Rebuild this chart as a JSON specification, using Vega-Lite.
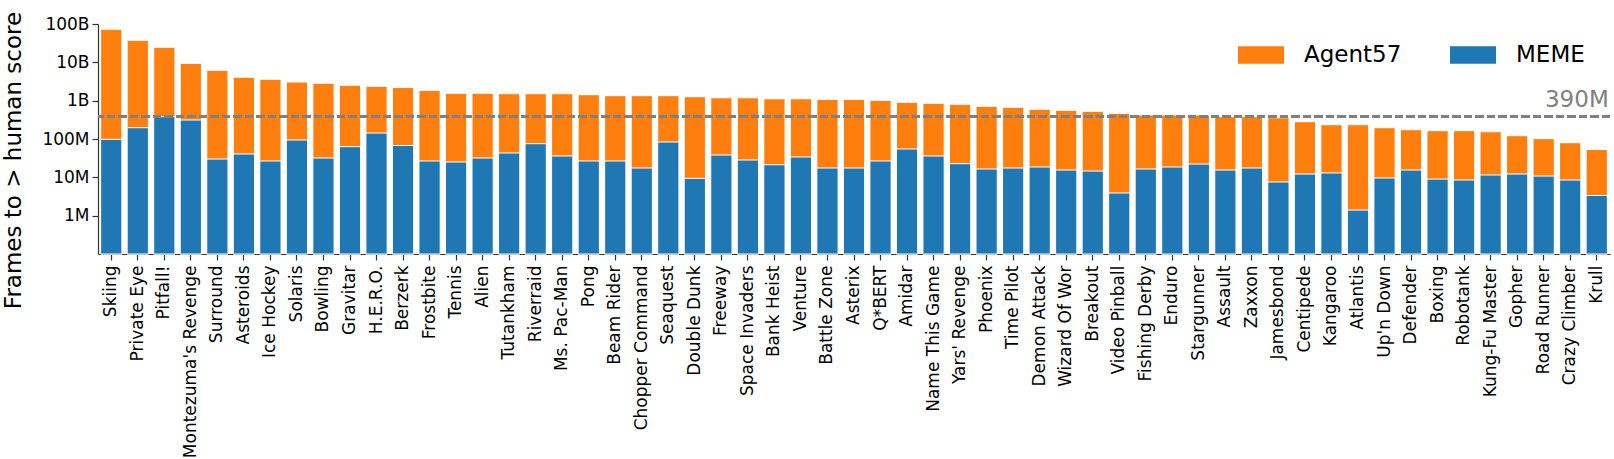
{
  "$schema": "https://vega.github.io/schema/vega-lite/v6.json",
  "width": 1512,
  "height": 230,
  "autosize": {"type": "none"},
  "padding": {"left": 98, "top": 24, "right": 4, "bottom": 205},
  "config": {
    "font": "DejaVu Sans",
    "view": {"stroke": null},
    "axis": {"grid": false}
  },
  "data": {
    "values": [
      {"game": "Skiing", "agent57": 73000000000, "meme": 98000000},
      {"game": "Private Eye", "agent57": 37600000000, "meme": 197000000},
      {"game": "Pitfall!", "agent57": 24700000000, "meme": 382000000},
      {"game": "Montezuma's Revenge", "agent57": 9400000000, "meme": 313000000},
      {"game": "Surround", "agent57": 6200000000, "meme": 30000000},
      {"game": "Asteroids", "agent57": 4070000000, "meme": 40600000},
      {"game": "Ice Hockey", "agent57": 3610000000, "meme": 26700000},
      {"game": "Solaris", "agent57": 3070000000, "meme": 94000000},
      {"game": "Bowling", "agent57": 2840000000, "meme": 31900000},
      {"game": "Gravitar", "agent57": 2520000000, "meme": 63000000},
      {"game": "H.E.R.O.", "agent57": 2370000000, "meme": 143000000},
      {"game": "Berzerk", "agent57": 2200000000, "meme": 67600000},
      {"game": "Frostbite", "agent57": 1860000000, "meme": 26700000},
      {"game": "Tennis", "agent57": 1560000000, "meme": 25100000},
      {"game": "Alien", "agent57": 1560000000, "meme": 31900000},
      {"game": "Tutankham", "agent57": 1520000000, "meme": 43100000},
      {"game": "Riverraid", "agent57": 1520000000, "meme": 75400000},
      {"game": "Ms. Pac-Man", "agent57": 1520000000, "meme": 36000000},
      {"game": "Pong", "agent57": 1430000000, "meme": 26700000},
      {"game": "Beam Rider", "agent57": 1350000000, "meme": 26700000},
      {"game": "Chopper Command", "agent57": 1350000000, "meme": 17500000},
      {"game": "Seaquest", "agent57": 1350000000, "meme": 83500000},
      {"game": "Double Dunk", "agent57": 1270000000, "meme": 9400000},
      {"game": "Freeway", "agent57": 1190000000, "meme": 38200000},
      {"game": "Space Invaders", "agent57": 1190000000, "meme": 28300000},
      {"game": "Bank Heist", "agent57": 1120000000, "meme": 21300000},
      {"game": "Venture", "agent57": 1120000000, "meme": 33900000},
      {"game": "Battle Zone", "agent57": 1080000000, "meme": 17500000},
      {"game": "Asterix", "agent57": 1080000000, "meme": 17500000},
      {"game": "Q*BERT", "agent57": 1020000000, "meme": 26700000},
      {"game": "Amidar", "agent57": 906000000, "meme": 54800000},
      {"game": "Name This Game", "agent57": 853000000, "meme": 36000000},
      {"game": "Yars' Revenge", "agent57": 804000000, "meme": 22700000},
      {"game": "Phoenix", "agent57": 713000000, "meme": 16500000},
      {"game": "Time Pilot", "agent57": 671000000, "meme": 17500000},
      {"game": "Demon Attack", "agent57": 595000000, "meme": 18600000},
      {"game": "Wizard Of Wor", "agent57": 561000000, "meme": 15500000},
      {"game": "Breakout", "agent57": 528000000, "meme": 14600000},
      {"game": "Video Pinball", "agent57": 468000000, "meme": 3900000},
      {"game": "Fishing Derby", "agent57": 423000000, "meme": 16500000},
      {"game": "Enduro", "agent57": 423000000, "meme": 18600000},
      {"game": "Stargunner", "agent57": 423000000, "meme": 22200000},
      {"game": "Assault", "agent57": 382000000, "meme": 15500000},
      {"game": "Zaxxon", "agent57": 382000000, "meme": 17500000},
      {"game": "Jamesbond", "agent57": 359000000, "meme": 7550000},
      {"game": "Centipede", "agent57": 283000000, "meme": 12200000},
      {"game": "Kangaroo", "agent57": 236000000, "meme": 13000000},
      {"game": "Atlantis", "agent57": 236000000, "meme": 1400000},
      {"game": "Up'n Down", "agent57": 197000000, "meme": 9600000},
      {"game": "Defender", "agent57": 175000000, "meme": 15500000},
      {"game": "Boxing", "agent57": 165000000, "meme": 9000000},
      {"game": "Robotank", "agent57": 165000000, "meme": 8500000},
      {"game": "Kung-Fu Master", "agent57": 155000000, "meme": 11500000},
      {"game": "Gopher", "agent57": 122000000, "meme": 12200000},
      {"game": "Road Runner", "agent57": 102000000, "meme": 10800000},
      {"game": "Crazy Climber", "agent57": 80000000, "meme": 8500000},
      {"game": "Krull", "agent57": 53200000, "meme": 3360000}
    ]
  },
  "layer": [
    {
      "mark": {"type": "bar", "stroke": "white", "strokeWidth": 1},
      "encoding": {
        "x": {
          "field": "game",
          "type": "nominal",
          "sort": null,
          "scale": {"paddingInner": 0.2, "paddingOuter": 0.1},
          "axis": {
            "title": null,
            "labelAngle": -90,
            "labelFontSize": 17,
            "labelColor": "#000000",
            "labelPadding": 5,
            "labelLimit": 300,
            "tickSize": 6,
            "tickColor": "#333333",
            "tickWidth": 1.2,
            "domainColor": "#333333",
            "domainWidth": 1.2
          }
        },
        "y": {
          "field": "agent57",
          "type": "quantitative",
          "stack": null,
          "scale": {"type": "log", "domain": [100000, 100000000000]},
          "axis": {
            "title": "Frames to > human score",
            "titleFontSize": 23,
            "titleFontWeight": "normal",
            "titleColor": "#000000",
            "titleX": -78,
            "titleY": 136,
            "titleAngle": 270,
            "titleAlign": "center",
            "titleBaseline": "alphabetic",
            "values": [1000000, 10000000, 100000000, 1000000000, 10000000000, 100000000000],
            "labelExpr": "datum.value >= 1e9 ? format(round(datum.value/1e9),'d') + 'B' : format(round(datum.value/1e6),'d') + 'M'",
            "labelFontSize": 17,
            "labelColor": "#000000",
            "labelPadding": 3,
            "tickSize": 6,
            "tickColor": "#333333",
            "tickWidth": 1.2,
            "domainColor": "#333333",
            "domainWidth": 1.2
          }
        },
        "y2": {"datum": 100000},
        "color": {
          "datum": "Agent57",
          "type": "nominal",
          "scale": {"domain": ["Agent57", "MEME"], "range": ["#ff7f0e", "#1f77b4"]},
          "legend": {
            "title": null,
            "orient": "none",
            "legendX": 1140,
            "legendY": 8,
            "direction": "horizontal",
            "padding": 0,
            "symbolType": "M-1,-0.38L1,-0.38L1,0.38L-1,0.38Z",
            "symbolSize": 2116,
            "symbolStrokeWidth": 0,
            "symbolOpacity": 1,
            "labelFontSize": 23,
            "labelColor": "#000000",
            "labelOffset": 20,
            "columnPadding": 48
          }
        }
      }
    },
    {
      "mark": {"type": "bar", "stroke": "white", "strokeWidth": 1},
      "encoding": {
        "x": {"field": "game", "type": "nominal", "sort": null},
        "y": {"field": "meme", "type": "quantitative", "stack": null},
        "y2": {"datum": 100000},
        "color": {"datum": "MEME", "type": "nominal"}
      }
    },
    {
      "mark": {"type": "rule", "color": "#808080", "strokeDash": [8, 3.5], "strokeWidth": 2},
      "encoding": {"y": {"datum": 390000000}}
    },
    {
      "data": {"values": [{"label": "390M"}]},
      "mark": {"type": "text", "color": "#808080", "fontSize": 23, "align": "right", "baseline": "alphabetic", "dx": 12, "dy": -9},
      "encoding": {
        "x": {"datum": "Krull"},
        "y": {"datum": 390000000},
        "text": {"field": "label"}
      }
    }
  ]
}
